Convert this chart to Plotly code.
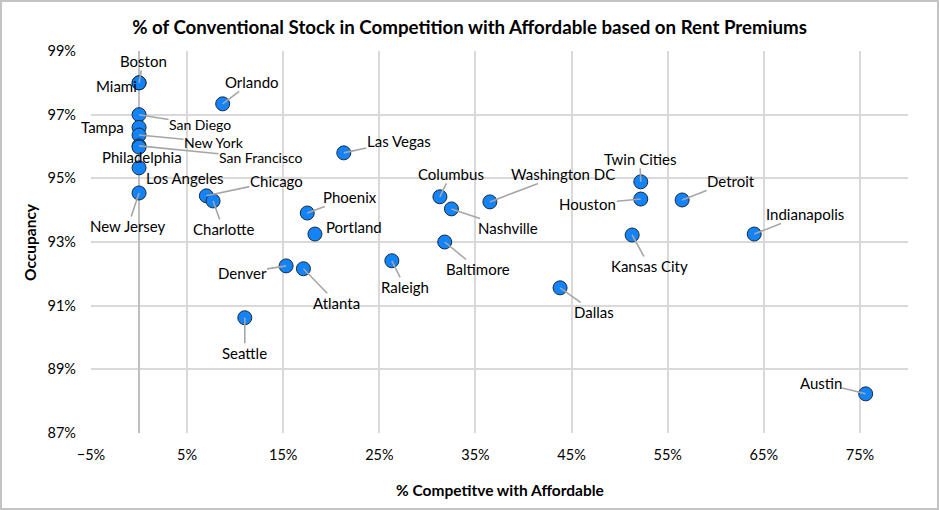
import plotly.graph_objects as go

# ---------------- data ----------------
cities = ["Boston", "Miami", "San Diego", "Tampa", "New York", "San Francisco",
          "Philadelphia", "Los Angeles", "New Jersey", "Orlando", "Chicago",
          "Charlotte", "Las Vegas", "Phoenix", "Portland", "Denver", "Atlanta",
          "Raleigh", "Seattle", "Columbus", "Nashville", "Washington DC",
          "Baltimore", "Dallas", "Twin Cities", "Houston", "Detroit",
          "Kansas City", "Indianapolis", "Austin"]

competitive = [0.0, 0.0, 0.0, 0.0, 0.0, 0.0,
               0.0, 0.0, 0.0, 0.087, 0.070,
               0.077, 0.213, 0.175, 0.183, 0.153, 0.171,
               0.263, 0.110, 0.313, 0.325, 0.365,
               0.318, 0.438, 0.522, 0.522, 0.565,
               0.513, 0.640, 0.756]

occupancy = [0.980, 0.980, 0.970, 0.966, 0.9636, 0.9602,
             0.9598, 0.9533, 0.9454, 0.9734, 0.9445,
             0.9429, 0.958, 0.9391, 0.9325, 0.9225, 0.9216,
             0.9241, 0.9062, 0.9442, 0.9404, 0.9426,
             0.930, 0.9156, 0.9489, 0.9435, 0.9432,
             0.9322, 0.9325, 0.8823]

x_ticks = [-0.05, 0.05, 0.15, 0.25, 0.35, 0.45, 0.55, 0.65, 0.75]
y_ticks = [0.87, 0.89, 0.91, 0.93, 0.95, 0.97, 0.99]

title_text = "% of Conventional Stock in Competition with Affordable based on Rent Premiums"
x_title = "% Competitve with Affordable"
y_title = "Occupancy"

# label placement (pixel offsets of label centre from the point, leader line on/off, font size)
label_place = {
    "Boston": (4, -22, True, 15), "Miami": (-23, 3, False, 15), "San Diego": (61, 10, True, 14),
    "Tampa": (-37, 0, False, 15), "New York": (75, 7, True, 14), "San Francisco": (122, 12, True, 14),
    "Philadelphia": (3, 10, False, 15), "Los Angeles": (46, 10, False, 15),
    "New Jersey": (-11, 33, True, 15), "Orlando": (29, -22, True, 15), "Chicago": (70, -15, True, 15),
    "Charlotte": (10, 28, True, 15), "Las Vegas": (55, -12, True, 15), "Phoenix": (43, -16, True, 15),
    "Portland": (39, -7, False, 15), "Denver": (-44, 7, True, 15), "Atlanta": (33, 34, True, 15),
    "Raleigh": (13, 26, True, 15), "Seattle": (0, 35, True, 15), "Columbus": (11, -23, True, 15),
    "Nashville": (57, 19, True, 15), "Washington DC": (73, -28, True, 15),
    "Baltimore": (33, 27, True, 15), "Dallas": (34, 24, True, 15), "Twin Cities": (-1, -23, True, 15),
    "Houston": (-53, 5, True, 15), "Detroit": (49, -19, True, 15), "Kansas City": (17, 31, True, 15),
    "Indianapolis": (51, -20, True, 15), "Austin": (-45, -11, True, 15),
}

# ---------------- layout constants ----------------
W, H = 939, 510
L, R, T, B = 91, 31, 51, 77
PW, PH = W - L - R, H - T - B
FONT = "Lato"
TXT = "#000000"
GRID = "#d9d9d9"

fig = go.Figure()
fig.add_trace(go.Scatter(
    x=competitive, y=occupancy, mode="markers", text=cities,
    marker=dict(size=14, color="#1283f8", line=dict(color="#1b2a3a", width=1)),
    hovertemplate="%{text}<br>%{x:.1%}, %{y:.1%}<extra></extra>",
    showlegend=False,
))

annotations = []
for c, xv, yv in zip(cities, competitive, occupancy):
    ax, ay, leader, fs = label_place[c]
    if leader:
        annotations.append(dict(
            x=xv, y=yv, xref="x", yref="y", text=c, showarrow=True,
            ax=ax, ay=ay, axref="pixel", ayref="pixel", borderpad=0,
            arrowhead=0, arrowwidth=1.6, arrowcolor="#a6a6a6", standoff=0,
            font=dict(family=FONT, size=fs, color=TXT),
        ))
    else:
        annotations.append(dict(
            x=xv, y=yv, xref="x", yref="y", text=c, showarrow=False,
            xshift=ax, yshift=-ay, xanchor="center", yanchor="middle", borderpad=0,
            font=dict(family=FONT, size=fs, color=TXT),
        ))

# axis titles
annotations.append(dict(
    x=-61 / PW, y=0.5, xref="paper", yref="paper", text="<b>" + y_title + "</b>",
    textangle=-90, showarrow=False, xanchor="center", yanchor="middle",
    font=dict(family=FONT, size=15.5, color=TXT)))
annotations.append(dict(
    x=0.5, y=-(490 - (T + PH)) / PH, xref="paper", yref="paper",
    text="<b>" + x_title + "</b>", showarrow=False, xanchor="center", yanchor="middle",
    font=dict(family=FONT, size=15.5, color=TXT)))

# chart border
shapes = [dict(type="rect", xref="paper", yref="paper",
               x0=-(L - 1) / PW, x1=1 + (R - 1) / PW,
               y0=-(B - 1) / PH, y1=1 + (T - 1) / PH,
               line=dict(color="#c4c4c4", width=2), layer="below")]

fig.update_layout(
    width=W, height=H,
    margin=dict(l=L, r=R, t=T, b=B),
    paper_bgcolor="white", plot_bgcolor="white",
    title=dict(text="<b>" + title_text + "</b>", x=0.5, xanchor="center",
               y=1 - 27 / H, yanchor="middle", yref="container",
               font=dict(family=FONT, size=18.7, color=TXT)),
    xaxis=dict(range=[-0.05, 0.80], tickvals=x_ticks, tickformat=".0%",
               showgrid=True, gridcolor=GRID, gridwidth=1.5,
               zeroline=True, zerolinecolor="#bfbfbf", zerolinewidth=1.5,
               showline=False, ticks="", ticklabelstandoff=11,
               tickfont=dict(family=FONT, size=14.5, color=TXT)),
    yaxis=dict(range=[0.87, 0.99], tickvals=y_ticks, tickformat=".0%",
               showgrid=True, gridcolor=GRID, gridwidth=1.5,
               zeroline=False, showline=False, ticks="", ticklabelstandoff=14,
               tickfont=dict(family=FONT, size=14.5, color=TXT)),
    annotations=annotations,
    shapes=shapes,
)

fig.write_html("out.html")
